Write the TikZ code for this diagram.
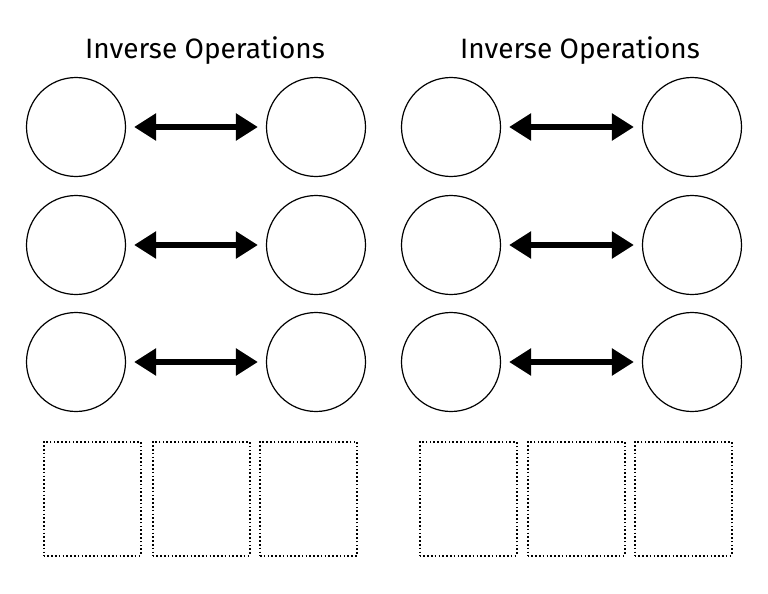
\documentclass[tikz,border=0pt]{standalone}
\usepackage{fontspec}
\setmainfont{Fira Sans}
\usetikzlibrary{arrows.meta}
\begin{document}
\begin{tikzpicture}[x=1pt,y=-1pt,
  circ/.style={circle,draw,line width=1.2pt,minimum size=99pt,inner sep=0pt},
  dbl/.style={line width=6.5pt,{Triangle[length=22pt,width=26pt]}-{Triangle[length=22pt,width=26pt]},shorten <=8pt,shorten >=8pt},
  box/.style={draw,line width=2pt,dash pattern=on 1.6pt off 2.2pt,minimum width=97pt,minimum height=114pt,inner sep=0pt},
  ttl/.style={font=\fontsize{28}{30}\selectfont}]
\useasboundingbox (0,0) rectangle (768,594);
\node[ttl] (t1) at (205,51) {Inverse Operations};
\node[ttl] (t2) at (580,51) {Inverse Operations};
\foreach \g/\xa/\xb in {L/76/316,R/451/692}{
  \foreach \r/\y in {1/127,2/245,3/362}{
    \node[circ] (\g a\r) at (\xa,\y) {};
    \node[circ] (\g b\r) at (\xb,\y) {};
    \draw[dbl] (\g a\r) -- (\g b\r);
  }
}
\foreach \n/\x in {b1/92,b2/201,b3/308.5,b4/468,b5/576,b6/683}{
  \node[box] (\n) at (\x,498.5) {};
}
\end{tikzpicture}
\end{document}
